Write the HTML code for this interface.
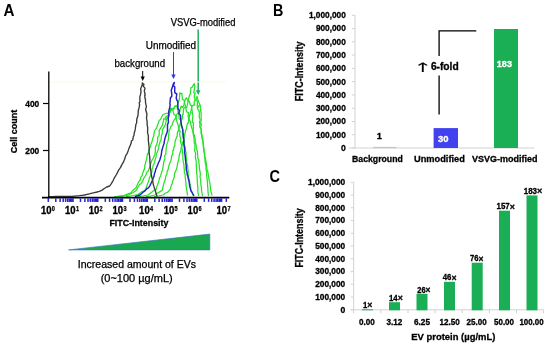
<!DOCTYPE html>
<html><head><meta charset="utf-8"><title>Figure</title>
<style>
html,body{margin:0;padding:0;background:#fff;}
svg{display:block;font-family:"Liberation Sans",sans-serif;}
</style></head><body>
<svg width="550" height="346" viewBox="0 0 550 346">
<defs><filter id="bl" x="-5%" y="-5%" width="110%" height="110%"><feGaussianBlur stdDeviation="0.35"/></filter></defs>
<rect width="550" height="346" fill="#fff"/>
<text transform="translate(3.5,15.6) scale(0.92,1)" font-size="16.5" font-weight="bold">A</text>
<text x="114.5" y="67" font-size="10.3" font-weight="normal" fill="#000" text-anchor="start" textLength="50.5" lengthAdjust="spacingAndGlyphs" stroke="#000" stroke-width="0.25">background</text>
<text x="145.8" y="48.9" font-size="10.3" font-weight="normal" fill="#000" text-anchor="start" textLength="50.2" lengthAdjust="spacingAndGlyphs" stroke="#000" stroke-width="0.25">Unmodified</text>
<text x="170.7" y="25.6" font-size="10.3" font-weight="normal" fill="#000" text-anchor="start" textLength="64.7" lengthAdjust="spacingAndGlyphs" stroke="#000" stroke-width="0.25">VSVG-modified</text>
<line x1="142.7" y1="71" x2="142.7" y2="78" stroke="#000" stroke-width="1"/>
<path d="M140.6,76.5 L142.7,81 L144.8,76.5 Z" fill="#000"/>
<line x1="173.5" y1="52" x2="173.5" y2="76" stroke="#3636f0" stroke-width="1"/>
<path d="M171.3,74.5 L173.5,79 L175.7,74.5 Z" fill="#3636f0"/>
<line x1="198.2" y1="29.5" x2="198.2" y2="91.5" stroke="#22ad5c" stroke-width="1.5"/>
<path d="M195.9,90.2 L198.2,95 L200.5,90.2 Z" fill="#22ad5c"/>
<line x1="50" y1="82" x2="226" y2="82" stroke="#fbf9e2" stroke-width="1"/>
<g filter="url(#bl)">
<polyline points="114.0,196.6 116.0,196.5 118.7,196.2 121.3,195.8 124.0,195.5 126.3,194.6 128.7,193.7 131.0,192.8 132.6,190.7 134.4,189.0 136.0,187.8 136.8,186.0 137.7,183.9 138.8,181.4 140.0,180.5 140.8,177.1 142.1,175.7 143.0,172.3 144.3,169.3 144.7,167.5 144.8,165.1 145.4,164.1 145.8,161.6 146.7,159.1 147.1,156.3 147.3,154.4 148.4,152.7 148.8,150.8 149.6,148.0 150.6,146.7 150.8,144.2 151.7,142.6 152.7,138.8 153.7,136.0 153.8,135.4 154.2,132.3 154.7,130.5 156.6,127.8 157.7,124.6 158.4,123.1 159.2,120.2 160.5,119.6 161.8,116.5 163.0,114.5 165.7,113.5 169.5,113.2 170.3,112.2 171.2,108.8 172.8,109.8 174.0,114.7 175.4,115.0 176.4,119.7 176.6,120.5 177.8,124.3 178.7,126.5 178.6,127.4 179.3,131.2 180.3,131.2 179.7,133.7 180.0,136.6 180.7,138.3 180.4,140.9 181.0,143.5 181.9,146.0 181.7,148.0 182.2,149.0 182.6,152.8 182.9,155.0 182.8,156.5 182.9,159.1 183.1,160.3 183.5,162.8 183.9,164.8 184.0,167.2 184.3,169.8 184.5,173.1 185.1,174.5 185.2,177.3 185.5,179.5 186.0,183.2 186.0,185.0 186.2,187.1 186.7,189.9 187.2,192.9 187.6,195.5" fill="none" stroke="#26e226" stroke-width="1.25" stroke-linejoin="round" opacity="1"/>
<polyline points="118.0,196.6 120.0,196.5 122.7,196.1 125.3,195.6 128.0,195.2 130.4,193.9 132.9,192.7 135.5,191.0 136.5,189.9 138.2,186.8 139.6,184.5 141.1,183.7 142.7,181.3 143.5,178.7 144.6,177.1 145.9,175.0 146.9,172.1 148.1,171.2 149.1,168.8 150.0,166.7 150.5,164.2 151.5,161.3 152.2,159.7 153.3,158.4 154.4,155.6 154.9,154.4 155.4,150.9 155.3,148.3 155.7,145.9 156.6,145.2 157.3,141.9 157.7,140.4 157.6,137.6 159.0,135.6 159.3,132.3 159.1,130.9 160.2,128.9 162.0,125.7 162.2,125.5 163.5,120.9 163.6,118.8 165.7,119.1 165.5,117.2 168.8,114.6 169.8,112.2 170.6,108.1 173.3,108.9 173.8,108.3 174.9,106.2 177.1,106.0 177.6,109.1 178.2,112.7 178.8,114.5 179.2,118.7 180.2,119.4 181.1,123.4 181.3,125.6 181.8,126.4 182.3,127.0 182.6,129.7 182.5,133.7 183.1,134.9 184.0,137.4 183.9,139.5 184.4,142.4 184.2,144.0 184.7,145.6 185.4,148.4 185.5,151.1 186.1,152.7 186.1,155.0 186.3,157.6 186.5,159.5 186.8,162.4 187.2,164.5 187.7,165.7 187.7,169.0 188.2,170.0 188.0,172.7 188.2,174.6 188.7,177.7 189.5,180.6 189.6,182.8 190.3,184.5 190.8,188.1 190.9,190.6 192.2,193.0 193.5,196.0" fill="none" stroke="#26e226" stroke-width="1.25" stroke-linejoin="round" opacity="1"/>
<polyline points="126.0,196.6 128.0,196.5 130.5,196.0 133.0,195.5 135.5,195.0 138.0,194.5 140.0,193.1 141.9,191.7 144.3,190.8 145.8,188.9 146.7,186.6 147.3,184.5 148.3,181.9 148.9,180.3 149.3,178.0 150.4,176.2 150.7,174.7 151.8,172.5 152.0,169.3 152.6,167.9 153.4,164.7 154.1,163.8 155.0,160.5 155.2,159.5 156.1,156.9 156.4,153.5 157.5,152.0 157.6,150.9 158.7,148.4 158.8,146.4 159.4,144.2 160.4,140.7 161.1,140.0 161.4,135.7 162.2,133.7 162.3,131.2 162.9,129.1 164.0,127.1 165.4,124.8 165.9,122.2 166.5,119.3 167.2,117.0 168.7,116.7 168.7,114.2 170.7,110.4 172.3,109.7 173.5,109.4 175.1,106.0 177.3,106.2 177.6,103.3 179.2,100.1 179.6,96.3 179.7,92.8 180.7,93.8 181.9,93.2 182.4,99.2 184.7,100.8 184.3,101.3 185.1,104.8 185.7,107.3 186.6,111.9 188.5,112.7 188.1,116.8 189.0,117.0 189.3,119.6 190.6,122.2 190.8,124.4 191.2,125.8 191.9,128.5 192.5,129.6 193.0,132.6 193.6,135.8 194.0,138.5 194.2,141.5 194.1,142.5 194.9,144.4 194.9,147.9 194.6,150.7 195.5,152.5 195.6,155.1 195.3,156.7 195.8,159.5 196.2,161.7 196.2,164.0 196.4,165.9 196.3,167.0 196.5,169.8 196.6,172.8 197.0,174.8 197.1,177.1 197.2,178.4 197.4,181.8 197.4,183.8 197.6,185.4 197.9,188.2 197.8,190.7 198.2,193.5 198.5,196.0" fill="none" stroke="#26e226" stroke-width="1.25" stroke-linejoin="round" opacity="1"/>
<polyline points="138.0,196.6 140.0,196.5 142.7,196.0 145.3,195.5 148.0,195.0 150.0,193.5 152.0,192.0 154.1,190.1 156.1,189.6 156.7,186.7 157.5,185.0 158.4,182.8 159.1,179.9 159.5,178.0 160.6,176.0 161.3,173.4 161.7,171.6 162.6,170.0 163.0,167.0 163.3,164.9 163.8,162.0 164.5,159.8 165.0,158.8 164.7,155.6 165.8,154.3 166.0,150.5 166.1,149.7 166.5,146.7 166.8,144.4 168.0,141.2 168.3,139.9 168.7,138.2 168.4,136.5 169.1,131.9 168.9,131.0 170.4,128.2 170.9,126.2 172.0,125.7 172.5,123.3 174.6,118.9 175.7,118.9 176.6,115.2 177.2,113.6 179.6,112.4 180.0,109.7 181.2,106.0 182.3,107.5 183.7,105.8 184.8,100.4 186.4,97.7 187.2,99.3 189.5,101.5 190.2,104.9 191.3,105.5 191.4,105.5 191.9,109.5 192.4,112.6 191.9,112.6 193.0,115.3 192.5,118.6 192.5,122.3 193.6,123.1 193.3,125.6 193.4,128.3 193.1,130.0 193.6,134.5 194.4,135.0 195.2,139.4 195.2,139.6 195.4,141.9 196.0,144.3 196.3,147.1 197.1,150.8 197.5,152.0 197.6,154.5 197.8,156.4 197.9,158.5 198.9,160.4 198.9,163.6 199.4,165.1 199.3,167.4 199.7,169.9 200.2,172.8 200.4,173.9 200.0,177.2 200.7,179.1 200.7,180.7 200.8,184.3 201.2,186.5 201.6,188.2 201.5,190.5 202.1,193.5 202.5,196.0" fill="none" stroke="#26e226" stroke-width="1.25" stroke-linejoin="round" opacity="1"/>
<polyline points="146.0,196.6 148.0,196.5 150.3,196.0 152.7,195.5 155.0,195.0 157.3,193.3 159.7,191.9 162.2,190.3 162.8,188.1 163.3,185.6 163.8,183.6 164.6,181.6 165.5,178.5 165.8,176.1 166.8,174.5 167.2,171.3 168.0,169.9 168.6,167.1 169.3,164.5 169.8,163.0 170.8,161.1 171.4,158.6 171.6,156.0 172.7,154.6 172.8,151.0 173.6,150.0 174.0,146.8 174.8,146.0 175.0,141.5 175.6,140.1 176.5,137.2 177.2,136.3 177.4,132.5 178.6,130.4 179.1,127.9 179.0,127.2 179.8,125.6 180.8,120.7 181.1,119.2 182.4,118.9 182.4,114.5 183.1,114.5 183.7,108.4 184.2,107.5 186.5,107.6 187.1,106.0 188.3,100.7 187.7,101.5 189.7,94.8 190.3,94.4 190.5,91.8 190.9,87.7 192.0,87.4 194.4,83.7 194.8,86.8 193.8,92.8 195.3,93.1 194.1,95.9 195.3,100.5 195.6,100.1 197.5,101.0 197.2,107.0 198.5,106.0 197.5,108.5 199.3,111.6 199.3,116.4 199.0,116.4 200.2,119.9 199.5,122.5 199.9,123.4 199.8,127.2 201.2,129.1 201.5,129.6 201.1,133.3 202.2,137.0 202.0,137.5 202.4,140.5 203.3,142.1 203.5,145.8 203.9,148.2 204.1,149.6 204.1,151.9 204.8,153.6 204.6,157.2 204.9,158.1 205.0,161.2 205.5,164.2 206.1,166.4 206.0,167.1 206.1,170.0 206.7,172.2 206.6,174.4 206.9,177.1 207.2,179.6 207.3,180.9 207.5,183.4 207.5,185.8 207.9,188.1 207.9,190.7 208.2,193.5 208.5,196.0" fill="none" stroke="#26e226" stroke-width="1.25" stroke-linejoin="round" opacity="1"/>
<polyline points="154.0,196.6 156.0,196.5 158.3,196.0 160.7,195.5 163.0,195.0 165.3,193.3 167.5,192.2 170.0,189.8 170.6,188.4 171.4,185.1 172.2,183.5 173.0,180.4 173.4,179.2 174.3,177.1 174.5,173.9 175.3,171.5 176.3,169.9 176.9,167.4 177.4,165.3 177.5,163.7 178.6,160.3 178.9,159.0 179.1,156.3 179.6,153.8 180.2,152.4 181.1,149.4 181.1,147.4 182.3,144.8 182.5,142.6 183.5,141.2 183.3,137.9 184.2,136.8 185.0,133.3 185.1,132.8 185.9,129.3 186.3,129.2 186.9,125.8 187.5,123.1 188.7,122.8 188.6,117.8 189.7,115.6 189.1,116.0 190.3,113.5 190.8,111.6 191.9,106.3 192.1,105.7 194.3,105.2 194.2,101.6 196.1,99.3 197.0,96.4 198.5,101.8 198.5,101.8 200.6,106.2 199.6,104.7 201.0,110.8 200.3,109.3 201.1,113.0 201.2,116.3 201.1,116.9 201.2,119.6 200.7,124.1 201.4,124.2 200.7,127.3 201.2,129.6 201.1,131.5 202.0,135.6 201.6,136.9 202.6,137.8 203.0,140.3 203.0,143.6 203.3,145.3 203.4,148.2 203.9,150.8 204.3,152.7 204.4,155.5 205.2,157.2 205.8,160.6 206.0,162.0 206.5,164.3 206.6,167.1 207.0,169.4 207.6,171.0 208.1,173.3 208.5,176.5 208.8,177.7 209.1,180.4 209.8,182.3 210.1,185.7 210.5,188.0 210.8,190.9 211.5,192.9 212.0,195.5" fill="none" stroke="#26e226" stroke-width="1.25" stroke-linejoin="round" opacity="1"/>
<polyline points="135.0,196.5 137.5,195.8 140.0,195.0 141.7,193.5 143.3,192.0 145.0,190.9 146.8,188.7 148.4,187.9 149.8,185.9 151.1,183.2 152.2,180.8 153.1,178.1 154.0,176.4 154.5,173.6 155.3,171.4 155.8,169.1 156.5,167.7 157.4,165.5 158.5,162.8 159.8,160.0 160.6,157.3 161.2,155.1 161.5,153.0 161.8,150.7 162.7,147.6 163.4,145.2 164.1,143.5 164.3,141.6 165.0,138.3 165.8,135.8 166.4,134.0 166.9,133.2 167.5,130.3 167.5,126.6 167.5,124.7 168.2,123.0 168.4,121.9 168.2,117.9 169.0,115.1 168.5,113.7 168.8,111.4 169.2,109.8 169.9,106.4 170.2,104.9 169.9,103.9 170.3,98.8 170.4,98.0 171.9,96.0 171.5,91.6 171.2,90.6 172.6,86.6 173.2,84.1 174.3,82.5 173.6,85.4 173.7,86.0 174.8,86.9 174.7,91.5 175.1,93.0 176.8,93.9 176.2,98.0 177.0,100.5 177.9,101.4 177.8,104.4 178.0,108.7 179.3,110.6 178.9,113.5 180.3,114.9 180.7,117.4 180.6,119.0 181.0,121.4 181.6,125.6 182.3,128.3 182.8,129.5 182.9,132.1 183.2,134.5 183.1,136.9 183.8,138.4 183.9,140.3 183.7,142.9 184.2,146.3 184.4,147.5 184.7,149.7 184.6,152.8 185.0,154.7 185.3,157.3 185.4,159.3 185.8,161.6 185.9,163.6 186.2,165.3 186.2,167.9 186.4,170.4 186.9,171.7 187.3,174.9 187.9,176.3 188.2,178.4 189.0,181.2 189.4,183.6 189.6,185.6 190.2,188.1 190.8,190.4 191.8,192.0 192.9,194.0 194.0,196.0" fill="none" stroke="#2020c8" stroke-width="1.45" stroke-linejoin="round" opacity="1"/>
<polyline points="48.0,196.6 50.4,196.6 52.8,196.6 55.2,196.5 57.6,196.5 60.0,196.5 62.4,196.5 64.8,196.5 67.2,196.4 69.6,196.4 72.0,196.4 74.5,196.1 77.0,195.8 79.5,195.6 82.0,195.3 84.5,195.0 87.0,194.4 89.5,193.8 92.0,193.2 94.5,192.6 97.0,192.0 99.2,191.3 101.8,190.4 103.9,188.8 106.7,187.0 109.7,186.0 111.3,183.6 113.0,180.8 114.4,177.8 116.1,175.0 117.4,172.6 118.8,169.8 120.4,167.6 121.9,164.6 123.5,161.9 124.7,159.1 125.6,155.9 127.2,153.3 128.1,150.9 129.1,148.0 130.2,145.4 131.1,143.3 131.4,141.0 132.8,140.0 133.2,137.0 134.0,135.3 134.3,132.5 134.9,130.9 135.3,128.9 135.8,124.8 136.7,122.7 136.7,120.3 137.0,118.3 137.9,116.0 138.2,112.6 138.3,110.4 139.2,107.2 139.6,104.6 139.2,102.9 140.2,101.2 139.8,99.9 139.9,96.2 140.5,94.7 141.0,91.9 140.7,88.4 141.0,87.8 142.3,84.9 142.3,83.0 143.9,84.3 143.4,86.4 145.0,88.1 144.3,90.8 145.2,95.0 144.7,95.2 145.0,98.2 145.5,100.2 145.5,102.7 146.4,106.6 145.6,109.5 145.8,110.3 146.9,113.7 146.8,115.2 146.5,118.0 146.7,119.4 147.1,121.3 147.2,125.1 147.6,126.8 147.7,129.0 147.5,131.6 147.9,134.1 148.4,135.8 148.3,138.6 148.3,140.0 148.7,143.3 148.9,145.3 149.1,147.5 149.1,149.5 149.1,152.0 149.2,154.0 149.7,156.6 149.8,158.4 149.9,160.9 150.1,163.1 150.3,165.9 150.3,167.9 150.7,169.9 151.1,172.9 151.4,175.0 151.9,177.7 152.7,180.0 152.9,182.6 153.5,185.2 154.2,187.4 155.0,189.5 155.6,192.1 156.3,194.0 157.0,196.2" fill="none" stroke="#3a3a3a" stroke-width="1.35" stroke-linejoin="round" opacity="1"/>
</g>
<line x1="48.8" y1="71.4" x2="48.8" y2="198.4" stroke="#000" stroke-width="1.3"/>
<line x1="42" y1="197.6" x2="229.3" y2="197.6" stroke="#000" stroke-width="1.8"/>
<line x1="43" y1="103.5" x2="48.8" y2="103.5" stroke="#000" stroke-width="1.2"/>
<line x1="43" y1="150.5" x2="48.8" y2="150.5" stroke="#000" stroke-width="1.2"/>
<text x="25.3" y="106.5" font-size="8.8" font-weight="bold" fill="#000" text-anchor="start" textLength="14" lengthAdjust="spacingAndGlyphs" stroke="#000" stroke-width="0.3">400</text>
<text x="25.3" y="153.5" font-size="8.8" font-weight="bold" fill="#000" text-anchor="start" textLength="14" lengthAdjust="spacingAndGlyphs" stroke="#000" stroke-width="0.3">200</text>
<text transform="translate(17.1,153.2) rotate(-90)" font-size="9.7" font-weight="bold" stroke="#000" stroke-width="0.3" textLength="43.4" lengthAdjust="spacingAndGlyphs">Cell count</text>
<line x1="48.3" y1="198.4" x2="48.3" y2="201.9" stroke="#2222d6" stroke-width="1.5"/>
<line x1="55.8" y1="198.4" x2="55.8" y2="201.9" stroke="#2222d6" stroke-width="1.5"/>
<line x1="60.1" y1="198.4" x2="60.1" y2="201.9" stroke="#2222d6" stroke-width="1.5"/>
<line x1="63.2" y1="198.4" x2="63.2" y2="201.9" stroke="#2222d6" stroke-width="1.5"/>
<line x1="65.6" y1="198.4" x2="65.6" y2="201.9" stroke="#2222d6" stroke-width="1.5"/>
<line x1="67.6" y1="198.4" x2="67.6" y2="201.9" stroke="#2222d6" stroke-width="1.5"/>
<line x1="69.2" y1="198.4" x2="69.2" y2="201.9" stroke="#2222d6" stroke-width="1.5"/>
<line x1="70.7" y1="198.4" x2="70.7" y2="201.9" stroke="#2222d6" stroke-width="1.5"/>
<line x1="71.9" y1="198.4" x2="71.9" y2="201.9" stroke="#2222d6" stroke-width="1.5"/>
<line x1="73.0" y1="198.4" x2="73.0" y2="201.9" stroke="#2222d6" stroke-width="1.5"/>
<line x1="80.5" y1="198.4" x2="80.5" y2="201.9" stroke="#2222d6" stroke-width="1.5"/>
<line x1="84.9" y1="198.4" x2="84.9" y2="201.9" stroke="#2222d6" stroke-width="1.5"/>
<line x1="88.0" y1="198.4" x2="88.0" y2="201.9" stroke="#2222d6" stroke-width="1.5"/>
<line x1="90.3" y1="198.4" x2="90.3" y2="201.9" stroke="#2222d6" stroke-width="1.5"/>
<line x1="92.3" y1="198.4" x2="92.3" y2="201.9" stroke="#2222d6" stroke-width="1.5"/>
<line x1="94.0" y1="198.4" x2="94.0" y2="201.9" stroke="#2222d6" stroke-width="1.5"/>
<line x1="95.4" y1="198.4" x2="95.4" y2="201.9" stroke="#2222d6" stroke-width="1.5"/>
<line x1="96.7" y1="198.4" x2="96.7" y2="201.9" stroke="#2222d6" stroke-width="1.5"/>
<line x1="97.8" y1="198.4" x2="97.8" y2="201.9" stroke="#2222d6" stroke-width="1.5"/>
<line x1="105.3" y1="198.4" x2="105.3" y2="201.9" stroke="#2222d6" stroke-width="1.5"/>
<line x1="109.6" y1="198.4" x2="109.6" y2="201.9" stroke="#2222d6" stroke-width="1.5"/>
<line x1="112.7" y1="198.4" x2="112.7" y2="201.9" stroke="#2222d6" stroke-width="1.5"/>
<line x1="115.1" y1="198.4" x2="115.1" y2="201.9" stroke="#2222d6" stroke-width="1.5"/>
<line x1="117.1" y1="198.4" x2="117.1" y2="201.9" stroke="#2222d6" stroke-width="1.5"/>
<line x1="118.7" y1="198.4" x2="118.7" y2="201.9" stroke="#2222d6" stroke-width="1.5"/>
<line x1="120.2" y1="198.4" x2="120.2" y2="201.9" stroke="#2222d6" stroke-width="1.5"/>
<line x1="121.4" y1="198.4" x2="121.4" y2="201.9" stroke="#2222d6" stroke-width="1.5"/>
<line x1="122.5" y1="198.4" x2="122.5" y2="201.9" stroke="#2222d6" stroke-width="1.5"/>
<line x1="130.0" y1="198.4" x2="130.0" y2="201.9" stroke="#2222d6" stroke-width="1.5"/>
<line x1="134.4" y1="198.4" x2="134.4" y2="201.9" stroke="#2222d6" stroke-width="1.5"/>
<line x1="137.5" y1="198.4" x2="137.5" y2="201.9" stroke="#2222d6" stroke-width="1.5"/>
<line x1="139.8" y1="198.4" x2="139.8" y2="201.9" stroke="#2222d6" stroke-width="1.5"/>
<line x1="141.8" y1="198.4" x2="141.8" y2="201.9" stroke="#2222d6" stroke-width="1.5"/>
<line x1="143.5" y1="198.4" x2="143.5" y2="201.9" stroke="#2222d6" stroke-width="1.5"/>
<line x1="144.9" y1="198.4" x2="144.9" y2="201.9" stroke="#2222d6" stroke-width="1.5"/>
<line x1="146.2" y1="198.4" x2="146.2" y2="201.9" stroke="#2222d6" stroke-width="1.5"/>
<line x1="147.3" y1="198.4" x2="147.3" y2="201.9" stroke="#2222d6" stroke-width="1.5"/>
<line x1="154.8" y1="198.4" x2="154.8" y2="201.9" stroke="#2222d6" stroke-width="1.5"/>
<line x1="159.1" y1="198.4" x2="159.1" y2="201.9" stroke="#2222d6" stroke-width="1.5"/>
<line x1="162.2" y1="198.4" x2="162.2" y2="201.9" stroke="#2222d6" stroke-width="1.5"/>
<line x1="164.6" y1="198.4" x2="164.6" y2="201.9" stroke="#2222d6" stroke-width="1.5"/>
<line x1="166.6" y1="198.4" x2="166.6" y2="201.9" stroke="#2222d6" stroke-width="1.5"/>
<line x1="168.2" y1="198.4" x2="168.2" y2="201.9" stroke="#2222d6" stroke-width="1.5"/>
<line x1="169.7" y1="198.4" x2="169.7" y2="201.9" stroke="#2222d6" stroke-width="1.5"/>
<line x1="170.9" y1="198.4" x2="170.9" y2="201.9" stroke="#2222d6" stroke-width="1.5"/>
<line x1="172.1" y1="198.4" x2="172.1" y2="201.9" stroke="#2222d6" stroke-width="1.5"/>
<line x1="179.5" y1="198.4" x2="179.5" y2="201.9" stroke="#2222d6" stroke-width="1.5"/>
<line x1="183.9" y1="198.4" x2="183.9" y2="201.9" stroke="#2222d6" stroke-width="1.5"/>
<line x1="187.0" y1="198.4" x2="187.0" y2="201.9" stroke="#2222d6" stroke-width="1.5"/>
<line x1="189.3" y1="198.4" x2="189.3" y2="201.9" stroke="#2222d6" stroke-width="1.5"/>
<line x1="191.3" y1="198.4" x2="191.3" y2="201.9" stroke="#2222d6" stroke-width="1.5"/>
<line x1="193.0" y1="198.4" x2="193.0" y2="201.9" stroke="#2222d6" stroke-width="1.5"/>
<line x1="194.4" y1="198.4" x2="194.4" y2="201.9" stroke="#2222d6" stroke-width="1.5"/>
<line x1="195.7" y1="198.4" x2="195.7" y2="201.9" stroke="#2222d6" stroke-width="1.5"/>
<line x1="196.8" y1="198.4" x2="196.8" y2="201.9" stroke="#2222d6" stroke-width="1.5"/>
<line x1="204.3" y1="198.4" x2="204.3" y2="201.9" stroke="#2222d6" stroke-width="1.5"/>
<line x1="208.6" y1="198.4" x2="208.6" y2="201.9" stroke="#2222d6" stroke-width="1.5"/>
<line x1="211.7" y1="198.4" x2="211.7" y2="201.9" stroke="#2222d6" stroke-width="1.5"/>
<line x1="214.1" y1="198.4" x2="214.1" y2="201.9" stroke="#2222d6" stroke-width="1.5"/>
<line x1="216.1" y1="198.4" x2="216.1" y2="201.9" stroke="#2222d6" stroke-width="1.5"/>
<line x1="217.7" y1="198.4" x2="217.7" y2="201.9" stroke="#2222d6" stroke-width="1.5"/>
<line x1="219.2" y1="198.4" x2="219.2" y2="201.9" stroke="#2222d6" stroke-width="1.5"/>
<line x1="220.4" y1="198.4" x2="220.4" y2="201.9" stroke="#2222d6" stroke-width="1.5"/>
<line x1="221.6" y1="198.4" x2="221.6" y2="201.9" stroke="#2222d6" stroke-width="1.5"/>
<line x1="226.3" y1="198.4" x2="226.3" y2="201.9" stroke="#2222d6" stroke-width="1.5"/>
<text x="40.9" y="214" font-size="10.6" font-weight="bold" stroke="#000" stroke-width="0.35" textLength="10.6" lengthAdjust="spacingAndGlyphs">10</text>
<text x="51.8" y="210.9" font-size="6.3" font-weight="bold" stroke="#000" stroke-width="0.25" textLength="3.1" lengthAdjust="spacingAndGlyphs">0</text>
<text x="65" y="214" font-size="10.6" font-weight="bold" stroke="#000" stroke-width="0.35" textLength="10.6" lengthAdjust="spacingAndGlyphs">10</text>
<text x="75.9" y="210.9" font-size="6.3" font-weight="bold" stroke="#000" stroke-width="0.25" textLength="3.1" lengthAdjust="spacingAndGlyphs">1</text>
<text x="88.7" y="214" font-size="10.6" font-weight="bold" stroke="#000" stroke-width="0.35" textLength="10.6" lengthAdjust="spacingAndGlyphs">10</text>
<text x="99.6" y="210.9" font-size="6.3" font-weight="bold" stroke="#000" stroke-width="0.25" textLength="3.1" lengthAdjust="spacingAndGlyphs">2</text>
<text x="112.5" y="214" font-size="10.6" font-weight="bold" stroke="#000" stroke-width="0.35" textLength="10.6" lengthAdjust="spacingAndGlyphs">10</text>
<text x="123.4" y="210.9" font-size="6.3" font-weight="bold" stroke="#000" stroke-width="0.25" textLength="3.1" lengthAdjust="spacingAndGlyphs">3</text>
<text x="139.1" y="214" font-size="10.6" font-weight="bold" stroke="#000" stroke-width="0.35" textLength="10.6" lengthAdjust="spacingAndGlyphs">10</text>
<text x="150.0" y="210.9" font-size="6.3" font-weight="bold" stroke="#000" stroke-width="0.25" textLength="3.1" lengthAdjust="spacingAndGlyphs">4</text>
<text x="163.7" y="214" font-size="10.6" font-weight="bold" stroke="#000" stroke-width="0.35" textLength="10.6" lengthAdjust="spacingAndGlyphs">10</text>
<text x="174.6" y="210.9" font-size="6.3" font-weight="bold" stroke="#000" stroke-width="0.25" textLength="3.1" lengthAdjust="spacingAndGlyphs">5</text>
<text x="187.6" y="214" font-size="10.6" font-weight="bold" stroke="#000" stroke-width="0.35" textLength="10.6" lengthAdjust="spacingAndGlyphs">10</text>
<text x="198.5" y="210.9" font-size="6.3" font-weight="bold" stroke="#000" stroke-width="0.25" textLength="3.1" lengthAdjust="spacingAndGlyphs">6</text>
<text x="216.5" y="214" font-size="10.6" font-weight="bold" stroke="#000" stroke-width="0.35" textLength="10.6" lengthAdjust="spacingAndGlyphs">10</text>
<text x="227.4" y="210.9" font-size="6.3" font-weight="bold" stroke="#000" stroke-width="0.25" textLength="3.1" lengthAdjust="spacingAndGlyphs">7</text>
<text x="109.4" y="225.6" font-size="9.1" font-weight="bold" fill="#000" text-anchor="start" textLength="59" lengthAdjust="spacingAndGlyphs" stroke="#000" stroke-width="0.3">FITC-Intensity</text>
<path d="M68.7,249.9 L209.8,234.1 L209.8,249.9 Z" fill="#19a84f" stroke="#3f78c0" stroke-width="0.7"/>
<text x="77.8" y="267.7" font-size="10.0" font-weight="normal" fill="#000" text-anchor="start" textLength="118.2" lengthAdjust="spacingAndGlyphs" stroke="#000" stroke-width="0.25">Increased amount of EVs</text>
<text x="100.7" y="281.8" font-size="10.0" font-weight="normal" fill="#000" text-anchor="start" textLength="72" lengthAdjust="spacingAndGlyphs" stroke="#000" stroke-width="0.25">(0~100 µg/mL)</text>
<text transform="translate(272.9,15.6) scale(0.87,1)" font-size="16.5" font-weight="bold">B</text>
<line x1="355" y1="15.3" x2="355" y2="148" stroke="#d2d2d2" stroke-width="1"/>
<line x1="349" y1="148" x2="534.4" y2="148" stroke="#d2d2d2" stroke-width="1"/>
<line x1="352" y1="15.3" x2="355" y2="15.3" stroke="#d2d2d2" stroke-width="1"/>
<text x="308.90000000000003" y="18.2" font-size="8.5" font-weight="bold" fill="#000" text-anchor="start" textLength="36.9" lengthAdjust="spacingAndGlyphs" stroke="#000" stroke-width="0.3">1,000,000</text>
<line x1="352" y1="28.6" x2="355" y2="28.6" stroke="#d2d2d2" stroke-width="1"/>
<text x="315.90000000000003" y="31.4" font-size="8.5" font-weight="bold" fill="#000" text-anchor="start" textLength="29.9" lengthAdjust="spacingAndGlyphs" stroke="#000" stroke-width="0.3">900,000</text>
<line x1="352" y1="41.8" x2="355" y2="41.8" stroke="#d2d2d2" stroke-width="1"/>
<text x="315.90000000000003" y="44.7" font-size="8.5" font-weight="bold" fill="#000" text-anchor="start" textLength="29.9" lengthAdjust="spacingAndGlyphs" stroke="#000" stroke-width="0.3">800,000</text>
<line x1="352" y1="55.1" x2="355" y2="55.1" stroke="#d2d2d2" stroke-width="1"/>
<text x="315.90000000000003" y="58.0" font-size="8.5" font-weight="bold" fill="#000" text-anchor="start" textLength="29.9" lengthAdjust="spacingAndGlyphs" stroke="#000" stroke-width="0.3">700,000</text>
<line x1="352" y1="68.4" x2="355" y2="68.4" stroke="#d2d2d2" stroke-width="1"/>
<text x="315.90000000000003" y="71.2" font-size="8.5" font-weight="bold" fill="#000" text-anchor="start" textLength="29.9" lengthAdjust="spacingAndGlyphs" stroke="#000" stroke-width="0.3">600,000</text>
<line x1="352" y1="81.6" x2="355" y2="81.6" stroke="#d2d2d2" stroke-width="1"/>
<text x="315.90000000000003" y="84.5" font-size="8.5" font-weight="bold" fill="#000" text-anchor="start" textLength="29.9" lengthAdjust="spacingAndGlyphs" stroke="#000" stroke-width="0.3">500,000</text>
<line x1="352" y1="94.9" x2="355" y2="94.9" stroke="#d2d2d2" stroke-width="1"/>
<text x="315.90000000000003" y="97.8" font-size="8.5" font-weight="bold" fill="#000" text-anchor="start" textLength="29.9" lengthAdjust="spacingAndGlyphs" stroke="#000" stroke-width="0.3">400,000</text>
<line x1="352" y1="108.2" x2="355" y2="108.2" stroke="#d2d2d2" stroke-width="1"/>
<text x="315.90000000000003" y="111.0" font-size="8.5" font-weight="bold" fill="#000" text-anchor="start" textLength="29.9" lengthAdjust="spacingAndGlyphs" stroke="#000" stroke-width="0.3">300,000</text>
<line x1="352" y1="121.5" x2="355" y2="121.5" stroke="#d2d2d2" stroke-width="1"/>
<text x="315.90000000000003" y="124.3" font-size="8.5" font-weight="bold" fill="#000" text-anchor="start" textLength="29.9" lengthAdjust="spacingAndGlyphs" stroke="#000" stroke-width="0.3">200,000</text>
<line x1="352" y1="134.7" x2="355" y2="134.7" stroke="#d2d2d2" stroke-width="1"/>
<text x="315.90000000000003" y="137.6" font-size="8.5" font-weight="bold" fill="#000" text-anchor="start" textLength="29.9" lengthAdjust="spacingAndGlyphs" stroke="#000" stroke-width="0.3">100,000</text>
<line x1="352" y1="148.0" x2="355" y2="148.0" stroke="#d2d2d2" stroke-width="1"/>
<text x="341.0" y="150.8" font-size="8.5" font-weight="bold" fill="#000" text-anchor="start" textLength="4.8" lengthAdjust="spacingAndGlyphs" stroke="#000" stroke-width="0.3">0</text>
<text transform="translate(303.3,101.2) rotate(-90)" font-size="10" font-weight="bold" stroke="#000" stroke-width="0.3" textLength="59.6" lengthAdjust="spacingAndGlyphs">FITC-Intensity</text>
<rect x="373" y="146.9" width="23.5" height="1.2" fill="#b4c8dc"/>
<rect x="433.6" y="128.1" width="24.4" height="19.9" fill="#4141f0"/>
<rect x="494" y="29" width="24" height="119" fill="#1aaf54"/>
<text x="379.4" y="139.2" font-size="9.4" font-weight="bold" fill="#000" text-anchor="middle" stroke="#000" stroke-width="0.3">1</text>
<text x="438.1" y="141.7" font-size="9.3" font-weight="bold" fill="#fff" text-anchor="start" textLength="10.5" lengthAdjust="spacingAndGlyphs" stroke="#fff" stroke-width="0.3">30</text>
<text x="496.8" y="66.6" font-size="9.3" font-weight="bold" fill="#fff" text-anchor="start" textLength="15.2" lengthAdjust="spacingAndGlyphs" stroke="#fff" stroke-width="0.3">183</text>
<text x="352" y="161.6" font-size="9.7" font-weight="bold" fill="#000" text-anchor="start" textLength="50.8" lengthAdjust="spacingAndGlyphs" stroke="#000" stroke-width="0.3">Background</text>
<text x="414" y="161.6" font-size="9.7" font-weight="bold" fill="#000" text-anchor="start" textLength="50.9" lengthAdjust="spacingAndGlyphs" stroke="#000" stroke-width="0.3">Unmodified</text>
<text x="472" y="161.6" font-size="9.7" font-weight="bold" fill="#000" text-anchor="start" textLength="65.4" lengthAdjust="spacingAndGlyphs" stroke="#000" stroke-width="0.3">VSVG-modified</text>
<path d="M476.3,30.8 H439.1 V56 M439.1,75.6 V114.4" fill="none" stroke="#000" stroke-width="1.3"/>
<text transform="translate(422.7,72.3) scale(1.75,1.0)" text-anchor="middle" font-size="13" font-weight="normal" font-family="DejaVu Sans, sans-serif">↑</text>
<text x="430.9" y="70.2" font-size="10.8" font-weight="bold" fill="#000" text-anchor="start" textLength="27.8" lengthAdjust="spacingAndGlyphs" stroke="#000" stroke-width="0.3">6-fold</text>
<text transform="translate(269.4,181.9) scale(0.88,1)" font-size="16.5" font-weight="bold">C</text>
<line x1="353.7" y1="182.3" x2="353.7" y2="313.3" stroke="#d2d2d2" stroke-width="1"/>
<line x1="350.7" y1="309.8" x2="543.6" y2="309.8" stroke="#d2d2d2" stroke-width="1"/>
<line x1="350.7" y1="182.3" x2="353.7" y2="182.3" stroke="#d2d2d2" stroke-width="1"/>
<text x="308.0" y="185.1" font-size="8.5" font-weight="bold" fill="#000" text-anchor="start" textLength="37.2" lengthAdjust="spacingAndGlyphs" stroke="#000" stroke-width="0.3">1,000,000</text>
<line x1="350.7" y1="195.1" x2="353.7" y2="195.1" stroke="#d2d2d2" stroke-width="1"/>
<text x="315.2" y="197.8" font-size="8.5" font-weight="bold" fill="#000" text-anchor="start" textLength="30" lengthAdjust="spacingAndGlyphs" stroke="#000" stroke-width="0.3">900,000</text>
<line x1="350.7" y1="207.8" x2="353.7" y2="207.8" stroke="#d2d2d2" stroke-width="1"/>
<text x="315.2" y="210.6" font-size="8.5" font-weight="bold" fill="#000" text-anchor="start" textLength="30" lengthAdjust="spacingAndGlyphs" stroke="#000" stroke-width="0.3">800,000</text>
<line x1="350.7" y1="220.6" x2="353.7" y2="220.6" stroke="#d2d2d2" stroke-width="1"/>
<text x="315.2" y="223.3" font-size="8.5" font-weight="bold" fill="#000" text-anchor="start" textLength="30" lengthAdjust="spacingAndGlyphs" stroke="#000" stroke-width="0.3">700,000</text>
<line x1="350.7" y1="233.3" x2="353.7" y2="233.3" stroke="#d2d2d2" stroke-width="1"/>
<text x="315.2" y="236.1" font-size="8.5" font-weight="bold" fill="#000" text-anchor="start" textLength="30" lengthAdjust="spacingAndGlyphs" stroke="#000" stroke-width="0.3">600,000</text>
<line x1="350.7" y1="246.1" x2="353.7" y2="246.1" stroke="#d2d2d2" stroke-width="1"/>
<text x="315.2" y="248.8" font-size="8.5" font-weight="bold" fill="#000" text-anchor="start" textLength="30" lengthAdjust="spacingAndGlyphs" stroke="#000" stroke-width="0.3">500,000</text>
<line x1="350.7" y1="258.8" x2="353.7" y2="258.8" stroke="#d2d2d2" stroke-width="1"/>
<text x="315.2" y="261.6" font-size="8.5" font-weight="bold" fill="#000" text-anchor="start" textLength="30" lengthAdjust="spacingAndGlyphs" stroke="#000" stroke-width="0.3">400,000</text>
<line x1="350.7" y1="271.6" x2="353.7" y2="271.6" stroke="#d2d2d2" stroke-width="1"/>
<text x="315.2" y="274.3" font-size="8.5" font-weight="bold" fill="#000" text-anchor="start" textLength="30" lengthAdjust="spacingAndGlyphs" stroke="#000" stroke-width="0.3">300,000</text>
<line x1="350.7" y1="284.3" x2="353.7" y2="284.3" stroke="#d2d2d2" stroke-width="1"/>
<text x="315.2" y="287.1" font-size="8.5" font-weight="bold" fill="#000" text-anchor="start" textLength="30" lengthAdjust="spacingAndGlyphs" stroke="#000" stroke-width="0.3">200,000</text>
<line x1="350.7" y1="297.1" x2="353.7" y2="297.1" stroke="#d2d2d2" stroke-width="1"/>
<text x="315.2" y="299.8" font-size="8.5" font-weight="bold" fill="#000" text-anchor="start" textLength="30" lengthAdjust="spacingAndGlyphs" stroke="#000" stroke-width="0.3">100,000</text>
<line x1="350.7" y1="309.8" x2="353.7" y2="309.8" stroke="#d2d2d2" stroke-width="1"/>
<text x="340.4" y="312.6" font-size="8.5" font-weight="bold" fill="#000" text-anchor="start" textLength="4.8" lengthAdjust="spacingAndGlyphs" stroke="#000" stroke-width="0.3">0</text>
<text transform="translate(303.3,267.6) rotate(-90)" font-size="10" font-weight="bold" stroke="#000" stroke-width="0.3" textLength="59.4" lengthAdjust="spacingAndGlyphs">FITC-Intensity</text>
<rect x="361.9" y="309.3" width="11" height="1.0" fill="#1aaf54"/>
<text x="362.9" y="307.90000000000003" font-size="8.4" font-weight="bold" fill="#000" text-anchor="start" textLength="9.4" lengthAdjust="spacingAndGlyphs" stroke="#000" stroke-width="0.3">1<tspan font-size="9.4" dy="0.5">×</tspan></text>
<text x="359" y="325.2" font-size="8.6" font-weight="bold" fill="#000" text-anchor="start" textLength="15.8" lengthAdjust="spacingAndGlyphs" stroke="#000" stroke-width="0.3">0.00</text>
<rect x="389" y="302.2" width="11" height="8.100000000000023" fill="#1aaf54"/>
<text x="389" y="300.6" font-size="8.4" font-weight="bold" fill="#000" text-anchor="start" textLength="13.8" lengthAdjust="spacingAndGlyphs" stroke="#000" stroke-width="0.3">14<tspan font-size="9.4" dy="0.5">×</tspan></text>
<text x="386.5" y="325.2" font-size="8.6" font-weight="bold" fill="#000" text-anchor="start" textLength="15.8" lengthAdjust="spacingAndGlyphs" stroke="#000" stroke-width="0.3">3.12</text>
<rect x="416.5" y="293.8" width="11" height="16.5" fill="#1aaf54"/>
<text x="417.3" y="292.6" font-size="8.4" font-weight="bold" fill="#000" text-anchor="start" textLength="13.2" lengthAdjust="spacingAndGlyphs" stroke="#000" stroke-width="0.3">26<tspan font-size="9.4" dy="0.5">×</tspan></text>
<text x="414" y="325.2" font-size="8.6" font-weight="bold" fill="#000" text-anchor="start" textLength="16" lengthAdjust="spacingAndGlyphs" stroke="#000" stroke-width="0.3">6.25</text>
<rect x="444" y="281.8" width="11" height="28.5" fill="#1aaf54"/>
<text x="442.7" y="280.40000000000003" font-size="8.4" font-weight="bold" fill="#000" text-anchor="start" textLength="13.8" lengthAdjust="spacingAndGlyphs" stroke="#000" stroke-width="0.3">46<tspan font-size="9.4" dy="0.5">×</tspan></text>
<text x="439.6" y="325.2" font-size="8.6" font-weight="bold" fill="#000" text-anchor="start" textLength="20.2" lengthAdjust="spacingAndGlyphs" stroke="#000" stroke-width="0.3">12.50</text>
<rect x="471.7" y="262.7" width="11" height="47.60000000000002" fill="#1aaf54"/>
<text x="470" y="261.3" font-size="8.4" font-weight="bold" fill="#000" text-anchor="start" textLength="13.5" lengthAdjust="spacingAndGlyphs" stroke="#000" stroke-width="0.3">76<tspan font-size="9.4" dy="0.5">×</tspan></text>
<text x="466.5" y="325.2" font-size="8.6" font-weight="bold" fill="#000" text-anchor="start" textLength="20.1" lengthAdjust="spacingAndGlyphs" stroke="#000" stroke-width="0.3">25.00</text>
<rect x="499" y="210.7" width="11" height="99.60000000000002" fill="#1aaf54"/>
<text x="496.5" y="209.1" font-size="8.4" font-weight="bold" fill="#000" text-anchor="start" textLength="18.3" lengthAdjust="spacingAndGlyphs" stroke="#000" stroke-width="0.3">157<tspan font-size="9.4" dy="0.5">×</tspan></text>
<text x="494" y="325.2" font-size="8.6" font-weight="bold" fill="#000" text-anchor="start" textLength="20" lengthAdjust="spacingAndGlyphs" stroke="#000" stroke-width="0.3">50.00</text>
<rect x="526.5" y="195.4" width="11" height="114.9" fill="#1aaf54"/>
<text x="523.7" y="193.9" font-size="8.4" font-weight="bold" fill="#000" text-anchor="start" textLength="18.6" lengthAdjust="spacingAndGlyphs" stroke="#000" stroke-width="0.3">183<tspan font-size="9.4" dy="0.5">×</tspan></text>
<text x="519.4" y="325.2" font-size="8.6" font-weight="bold" fill="#000" text-anchor="start" textLength="24.2" lengthAdjust="spacingAndGlyphs" stroke="#000" stroke-width="0.3">100.00</text>
<line x1="380.8" y1="309.8" x2="380.8" y2="313.3" stroke="#d2d2d2" stroke-width="1"/>
<line x1="408.0" y1="309.8" x2="408.0" y2="313.3" stroke="#d2d2d2" stroke-width="1"/>
<line x1="435.1" y1="309.8" x2="435.1" y2="313.3" stroke="#d2d2d2" stroke-width="1"/>
<line x1="462.2" y1="309.8" x2="462.2" y2="313.3" stroke="#d2d2d2" stroke-width="1"/>
<line x1="489.4" y1="309.8" x2="489.4" y2="313.3" stroke="#d2d2d2" stroke-width="1"/>
<line x1="516.5" y1="309.8" x2="516.5" y2="313.3" stroke="#d2d2d2" stroke-width="1"/>
<line x1="543.6" y1="309.8" x2="543.6" y2="313.3" stroke="#d2d2d2" stroke-width="1"/>
<text x="411.3" y="339.5" font-size="9.6" font-weight="bold" fill="#000" text-anchor="start" textLength="84" lengthAdjust="spacingAndGlyphs" stroke="#000" stroke-width="0.3">EV protein (µg/mL)</text>
</svg>
</body></html>
